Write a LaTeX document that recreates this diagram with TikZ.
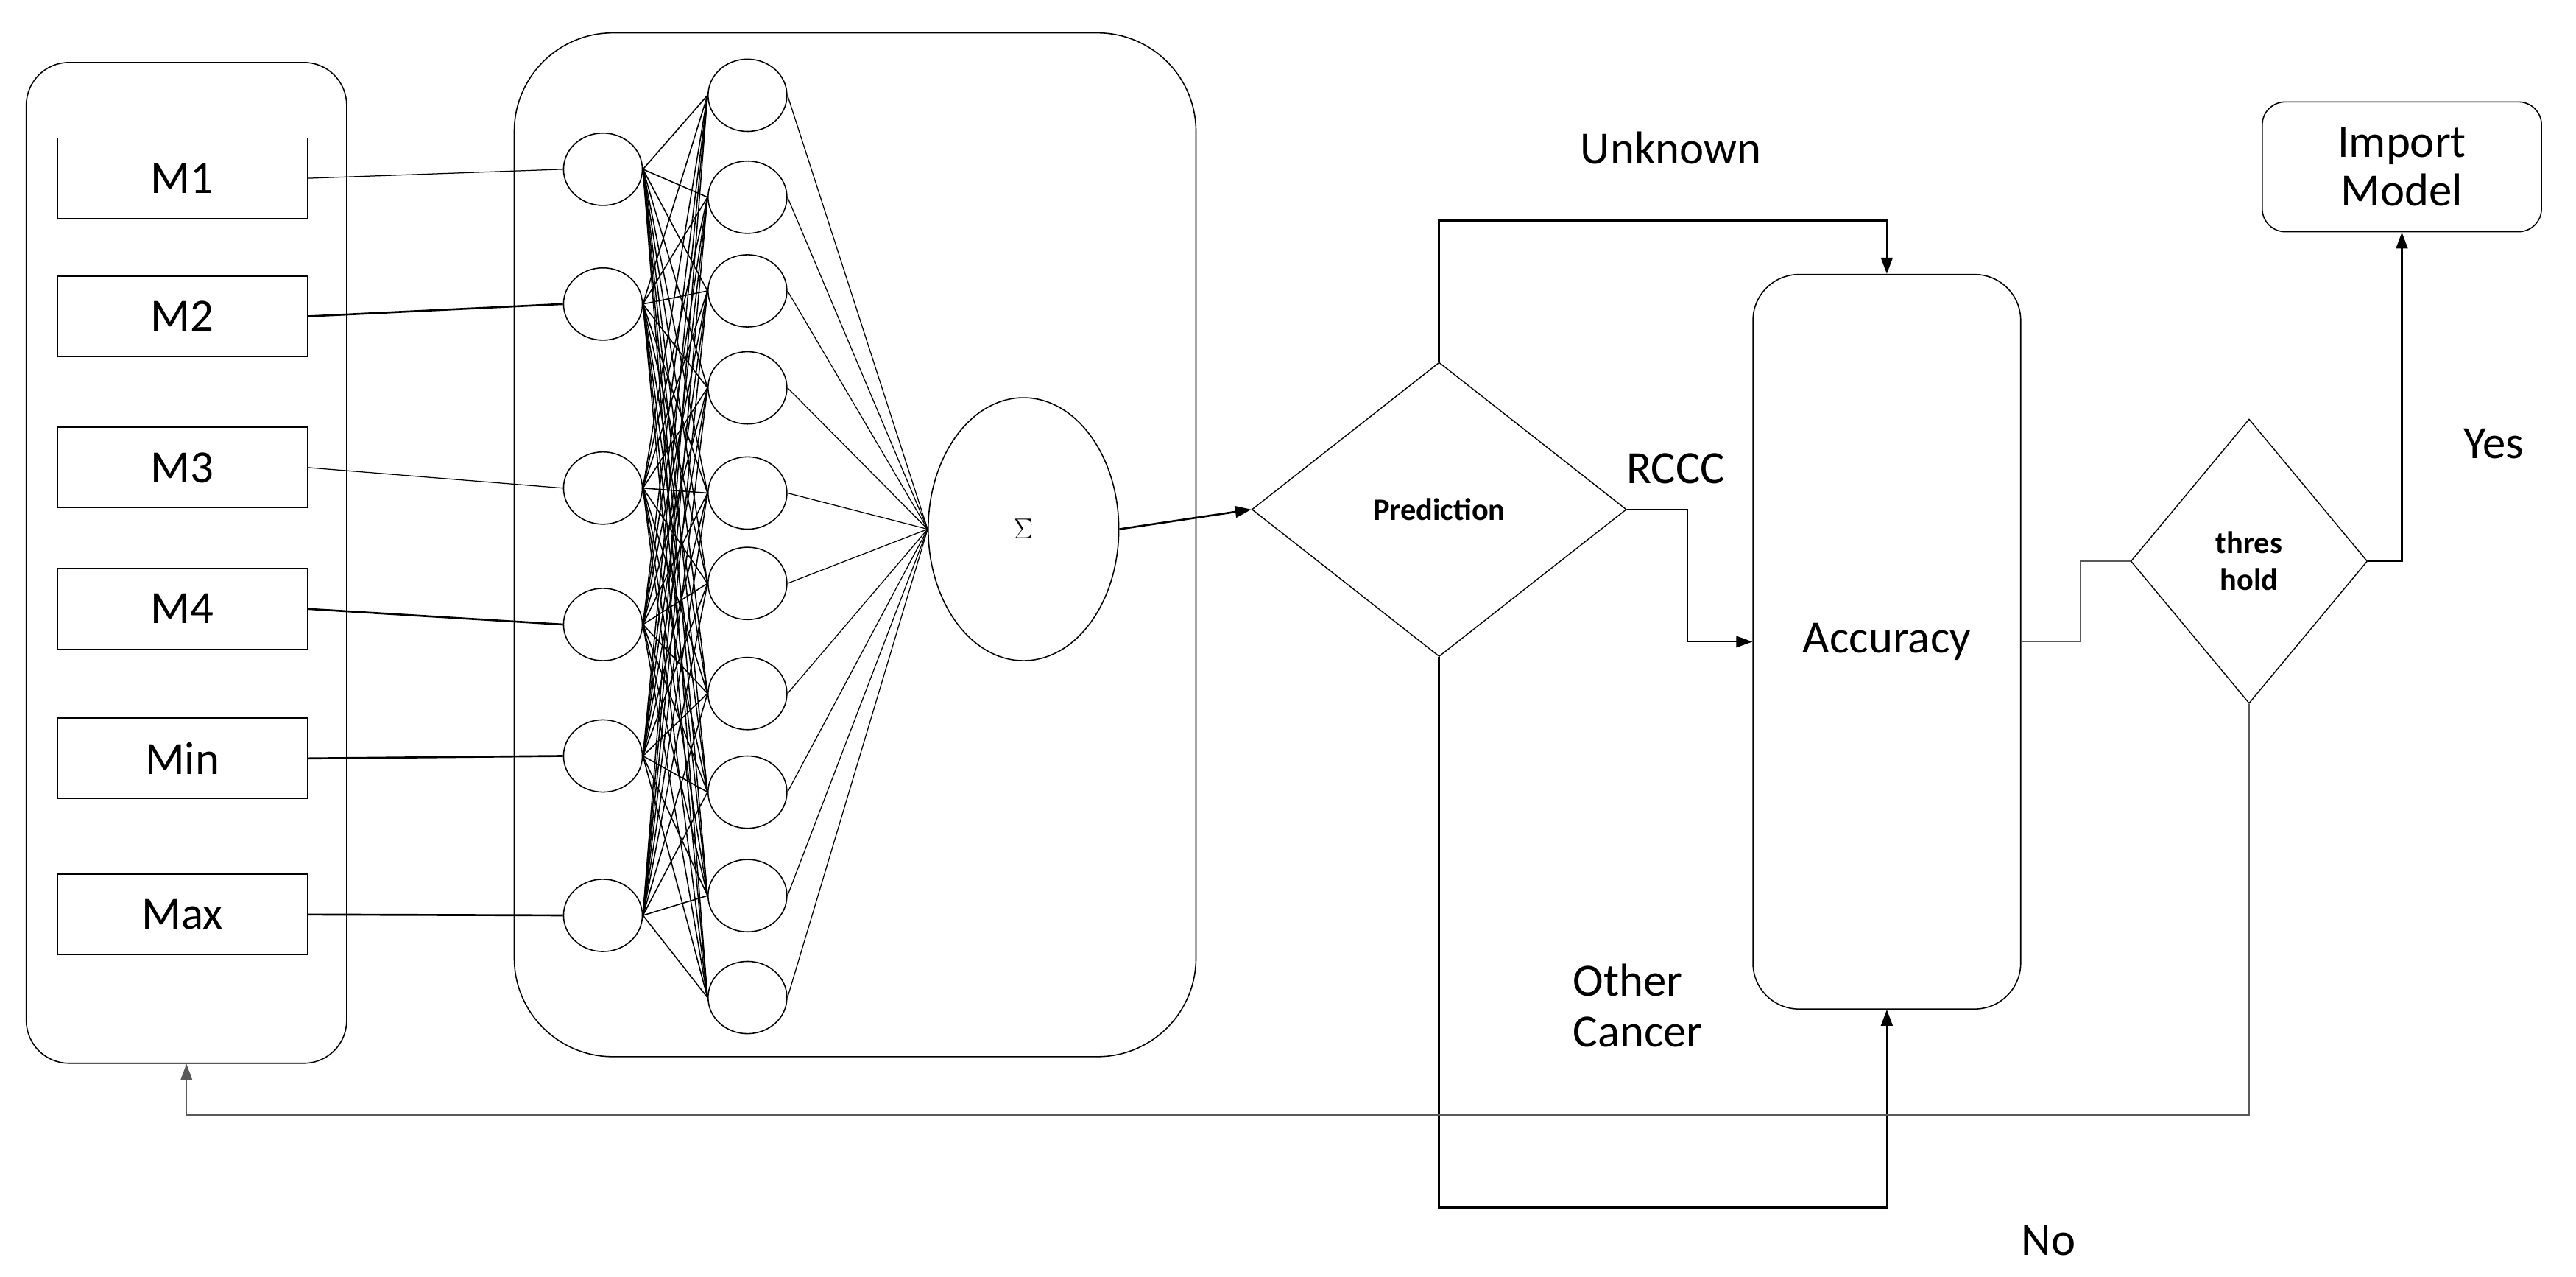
\documentclass[tikz,border=0pt]{standalone}
\usepackage{fontspec}
\setmainfont{Carlito}
\usetikzlibrary{shapes.geometric,arrows.meta}
\begin{document}
\begin{tikzpicture}[x=0.05cm,y=-0.05cm,
  big/.style={font=\fontsize{40}{48}\selectfont},
  box/.style={draw,line width=1pt,minimum width=7.6cm,minimum height=2.45cm,inner sep=0,big},
  neu/.style={draw,ellipse,line width=1pt,minimum width=2.4cm,minimum height=2.2cm,inner sep=0},
  thin/.style={line width=0.8pt},
  thick/.style={line width=1.7pt},
  arr/.style={-{Triangle[length=14pt,width=10pt]}},
  dia/.style={draw,diamond,line width=0.9pt,inner sep=0,font=\fontsize{27}{32}\selectfont\bfseries,align=center}]
\useasboundingbox (0,0) rectangle (1568,777);
\node[draw,rounded corners=1.3cm,line width=1pt,minimum width=9.75cm,minimum height=30.45cm] (left) at (113.5,342.5) {};
\node[draw,rounded corners=3cm,line width=1pt,minimum width=20.75cm,minimum height=31.15cm] (nn) at (520.5,331.5) {};
\node[box] (b1) at (111,108.5) {M1};
\node[box] (b2) at (111,192.5) {M2};
\node[box] (b3) at (111,284.5) {M3};
\node[box] (b4) at (111,370.5) {M4};
\node[box] (b5) at (111,461.5) {Min};
\node[box] (b6) at (111,556.5) {Max};
\foreach \i/\y in {1/103,2/185,3/297,4/380,5/460,6/557} \node[neu] (i\i) at (367,\y) {};
\foreach \j/\y in {1/58,2/120,3/177,4/236,5/300,6/355,7/422,8/482,9/545,10/607} \node[neu] (h\j) at (455,\y) {};
\node[draw,ellipse,line width=1pt,minimum width=5.8cm,minimum height=8cm,big] (sig) at (623,322) {$\Sigma$};
\draw[thin] (b1.east) -- (i1.west);
\draw[thick] (b2.east) -- (i2.west);
\draw[thin] (b3.east) -- (i3.west);
\draw[thick] (b4.east) -- (i4.west);
\draw[thick] (b5.east) -- (i5.west);
\draw[thick] (b6.east) -- (i6.west);
\foreach \i in {1,...,6} \foreach \j in {1,...,10} \draw[line width=1pt] (i\i.east) -- (h\j.west);
\foreach \j in {1,...,10} \draw[thin] (h\j.east) -- (sig.west);
\node[dia,minimum width=11.4cm,minimum height=8.95cm] (pred) at (876,310) {Prediction};
\node[draw,rounded corners=1.4cm,line width=1pt,minimum width=8.15cm,minimum height=22.35cm,big] (acc) at (1148.5,390.5) {Accuracy};
\node[dia,minimum width=7.2cm,minimum height=8.65cm] (thr) at (1369,341.5) {thres\\hold};
\node[draw,rounded corners=0.7cm,line width=1pt,minimum width=8.5cm,minimum height=3.95cm,big,align=center,text width=8cm] (imp) at (1462,101.5) {Import\\[-6pt]Model};
\draw[thick,arr] (sig.east) -- (pred.west);
\draw[thick,arr] (pred.north) -- ++(0,-86) -| (acc.north);
\draw[thick,arr] (pred.south) -- ++(0,335) -| (acc.south);
\draw[thin,arr] (pred.east) -- ++(37,0) |- (acc.west);
\draw[thin,gray!70!black,line width=1.2pt] (acc.east) -- ++(36,0) |- (thr.west);
\draw[thick,arr] (thr.east) -| (imp.south);
\draw[thin,gray!70!black,line width=1.2pt,arr] (thr.south) -- ++(0,250) -| (left.south);
\node[big] (lu) at (1017,90) {Unknown};
\node[big] (lr) at (1020,285) {RCCC};
\node[big,align=left,anchor=west] (lo) at (955,612) {Other\\[-4pt]Cancer};
\node[big] (ly) at (1518,270) {Yes};
\node[big] (ln) at (1247,755) {No};
\end{tikzpicture}
\end{document}
